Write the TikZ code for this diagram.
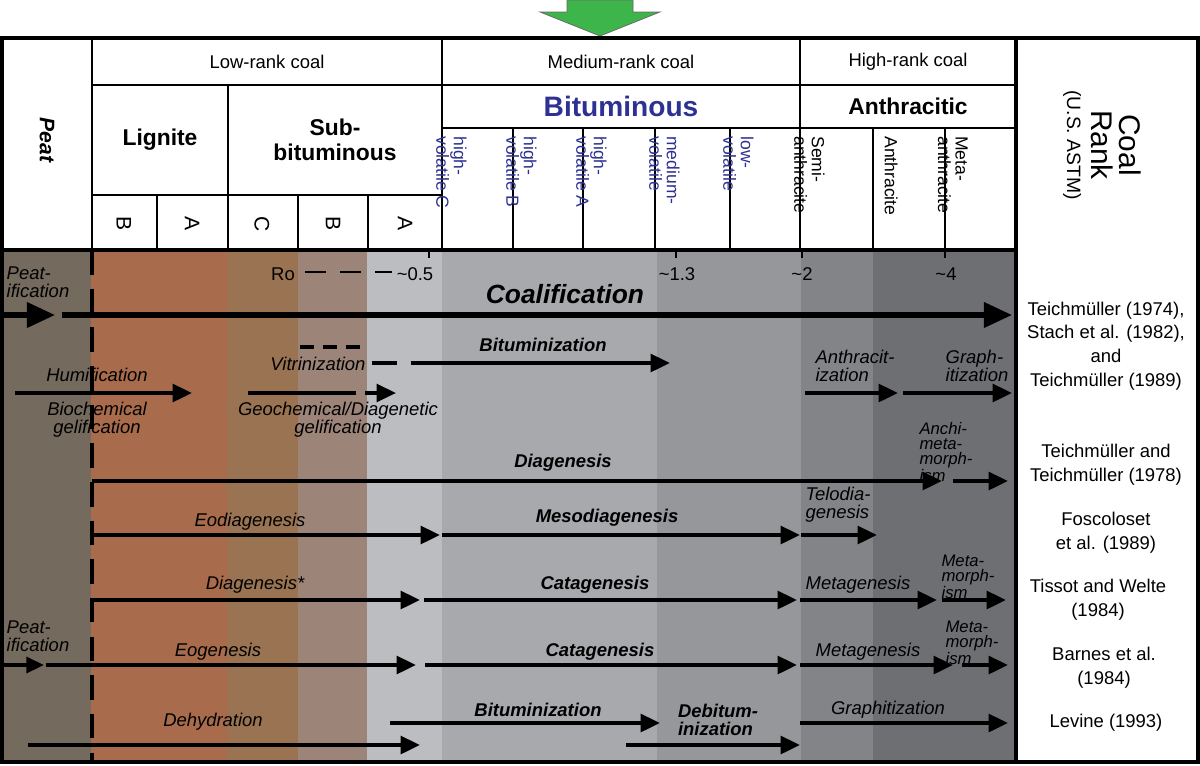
\documentclass[tikz,border=0pt]{standalone}
\usepackage{fontspec}
\setmainfont{Liberation Sans}
\usetikzlibrary{arrows.meta}
\definecolor{cpeat}{HTML}{756A5E}
\definecolor{corange}{HTML}{A86B4C}
\definecolor{colive}{HTML}{9A7452}
\definecolor{cmauve}{HTML}{9C8478}
\definecolor{clg}{HTML}{BCBDC1}
\definecolor{cg1}{HTML}{A8A9AD}
\definecolor{cg2}{HTML}{96979B}
\definecolor{cg3}{HTML}{838488}
\definecolor{cg4}{HTML}{6E6F73}
\definecolor{cblue}{HTML}{2E3192}
\definecolor{cgreen}{HTML}{3DB54A}
\tikzset{
 lab/.style={font=\fontsize{10.5}{10}\selectfont\itshape,align=center,inner sep=1pt},
 blab/.style={font=\fontsize{10.5}{10}\selectfont\bfseries\itshape,align=center,inner sep=1pt},
 slab/.style={font=\fontsize{9.5}{8.5}\selectfont\itshape,align=left,inner sep=0pt},
 ref/.style={font=\fontsize{10.5}{13.5}\selectfont,align=center},
 arr/.style={line width=2.2pt,-{Triangle[length=11pt,width=10pt]}},
 hdr/.style={font=\fontsize{10.5}{10}\selectfont},
 bhdr/.style={font=\fontsize{13}{14}\selectfont\bfseries,align=center},
 rot/.style={rotate=-90,font=\fontsize{10}{10}\selectfont,align=left,anchor=north west,inner sep=0pt},
}
\begin{document}
\begin{tikzpicture}[x=0.02cm,y=-0.02cm]
\useasboundingbox (0,0) rectangle (1200,765);
% bands
\fill[cpeat] (2,250) rectangle (91,762);
\fill[corange] (91,250) rectangle (227,762);
\fill[colive] (227,250) rectangle (298,762);
\fill[cmauve] (298,250) rectangle (367,762);
\fill[clg] (367,250) rectangle (442,762);
\fill[cg1] (442,250) rectangle (657,762);
\fill[cg2] (657,250) rectangle (801,762);
\fill[cg3] (801,250) rectangle (873,762);
\fill[cg4] (873,250) rectangle (1016,762);
% green arrow
\fill[cgreen,draw=black!60,line width=0.4pt] (567,0) -- (633,0) -- (633,12) -- (660,12) -- (600,36) -- (540,12) -- (567,12) -- cycle;
% grid
\draw[line width=2.5pt] (2,38) rectangle (1198,762);
\draw[line width=1.5pt] (92,38) -- (92,250);
\draw[line width=1.5pt] (442,38) -- (442,250);
\draw[line width=1.5pt] (800,38) -- (800,250);
\draw[line width=2.5pt] (1016,38) -- (1016,762);
\draw[line width=2.5pt] (2,250) -- (1016,250);
\draw[line width=1pt] (92,85) -- (1016,85);
\draw[line width=1pt] (442,128) -- (1016,128);
\draw[line width=1pt] (92,195) -- (442,195);
\draw[line width=1pt] (228,85) -- (228,250);
\foreach \x in {157,298,368} \draw[line width=1pt] (\x,195) -- (\x,250);
\foreach \x in {513,583,655,730,873,945} \draw[line width=1pt] (\x,128) -- (\x,250);
% header texts
\node[font=\fontsize{12}{12}\selectfont\bfseries\itshape,rotate=-90] (peat) at (47,140) {Peat};
\node[hdr] (low) at (267,62) {Low-rank coal};
\node[hdr] (med) at (621,62) {Medium-rank coal};
\node[hdr] (high) at (908,62) {High-rank coal};
\node[bhdr] (lig) at (160,140) {Lignite};
\node[bhdr] (sub) at (335,140) {Sub-\\bituminous};
\node[font=\fontsize{16}{16}\selectfont\bfseries,text=cblue] (bit) at (621,106) {Bituminous};
\node[font=\fontsize{13}{13}\selectfont\bfseries] (ant) at (908,106) {Anthracitic};
\foreach \x/\t in {124/B,192/A,262/C,333/B,405/A}
  \node[font=\fontsize{12}{12}\selectfont,rotate=-90] (l\t\x) at (\x,224) {\t};
\foreach \x/\t in {467/{high-\\volatile C},537/{high-\\volatile B},607/{high-\\volatile A},680/{medium-\\volatile},754/{low-\\volatile}}
  \node[rot,text=cblue] (b\x) at (\x,136) {\t};
\foreach \x/\t in {825/{Semi-\\anthracite},898/{Anthracite},968/{Meta-\\anthracite}}
  \node[rot] (a\x) at (\x,136) {\t};
\node[font=\fontsize{17}{18}\selectfont,rotate=-90] (cr) at (1130,145) {Coal};
\node[font=\fontsize{17}{18}\selectfont,rotate=-90] (cr2) at (1102,145) {Rank};
\node[font=\fontsize{11}{11}\selectfont,rotate=-90] (astm) at (1072,145) {(U.S. ASTM)};
% Ro ticks
\draw[line width=1pt] (429,250) -- (429,258);
\draw[line width=1pt] (676,250) -- (676,258);
\draw[line width=1pt] (802,250) -- (802,258);
\draw[line width=1pt] (945,250) -- (945,258);
\node[hdr] (ro) at (283,274) {Ro};
\node[hdr] (r05) at (415,274) {\textasciitilde 0.5};
\node[hdr] (r13) at (677,274) {\textasciitilde 1.3};
\node[hdr] (r2) at (802,274) {\textasciitilde 2};
\node[hdr] (r4) at (946,274) {\textasciitilde 4};
\draw[line width=1pt,dash pattern=on 12pt off 8pt] (ro.east) ++(4,-2) coordinate (roS) -- (392,272) coordinate (roE);
% dashed peat boundary
\draw[line width=2pt,dash pattern=on 14pt off 8pt] (92,250) -- (92,762);
% Coalification row
\node[lab,align=left] (pe1) at (38,282) {Peat-\\ification};
\node[font=\fontsize{15}{15}\selectfont\bfseries\itshape] (coal) at (565,294) {Coalification};
\coordinate (c0) at (2,315); \coordinate (c1) at (55,315);
\coordinate (c2) at (62,315); \coordinate (c3) at (1012,315);
\draw[line width=3pt,-{Triangle[length=16pt,width=14pt]}] (c0) -- (c1);
\draw[line width=3pt,-{Triangle[length=16pt,width=14pt]}] (c2) -- (c3);
% Vitrinization / bituminization
\draw[line width=2pt,dash pattern=on 8pt off 5pt] (300,347) coordinate (v0) -- (362,347) coordinate (v1);
\node[lab] (vit) at (318,364) {Vitrinization};
\node[blab] (bitz) at (543,345) {Bituminization};
\coordinate (v2) at (372,363); \coordinate (v3) at (430,363);\coordinate (v4) at (670,363);
\draw[line width=2pt,dash pattern=on 14pt off 8pt] (v2) -- (v3);
\draw[arr] (v3) -- (v4);
% Humification
\node[lab] (hum) at (97,375) {Humification};
\node[lab] (bio) at (97,420) {Biochemical\\gelification};
\coordinate (h0) at (15,393); \coordinate (h1) at (192,393);
\draw[arr] (h0) -- (h1);
\coordinate (g0) at (248,393); \coordinate (g1) at (342,393); \coordinate (g2) at (396,393);
\draw[line width=2pt] (g0) -- (g1);
\draw[line width=2pt,dash pattern=on 8pt off 5pt,-{Triangle[length=11pt,width=10pt]}] (g1) -- (g2);
\node[lab] (geo) at (338,420) {Geochemical/Diagenetic\\gelification};
\node[lab,align=left] (anth) at (855,366) {Anthracit-\\ization};
\node[lab,align=left] (grz) at (977,366) {Graph-\\itization};
\coordinate (an0) at (805,393); \coordinate (an1) at (898,393);
\coordinate (gr0) at (903,393); \coordinate (gr1) at (1012,393);
\draw[arr] (an0) -- (an1); \draw[arr] (gr0) -- (gr1);
% Diagenesis row
\node[blab] (dia) at (563,463) {Diagenesis};
\coordinate (d0) at (92,481); \coordinate (d1) at (942,481);
\draw[arr] (d0) -- (d1);
\node[slab] (anchi) at (946,452) {Anchi-\\meta-\\morph-\\ism};
\coordinate (am0) at (953,481); \coordinate (am1) at (1008,481);
\draw[arr] (am0) -- (am1);
% Eodiagenesis
\node[lab] (eod) at (250,522) {Eodiagenesis};
\node[blab] (meso) at (607,518) {Mesodiagenesis};
\node[lab,align=left] (telo) at (838,505) {Telodia-\\genesis};
\coordinate (e0) at (92,535); \coordinate (e1) at (440,535);
\coordinate (e2) at (442,535); \coordinate (e3) at (800,535);
\coordinate (e4) at (801,535); \coordinate (e5) at (877,535);
\draw[arr] (e0) -- (e1); \draw[arr] (e2) -- (e3); \draw[arr] (e4) -- (e5);
% Diagenesis*
\node[lab] (dst) at (255,585) {Diagenesis*};
\node[blab] (cat1) at (595,585) {Catagenesis};
\node[lab] (met1) at (858,585) {Metagenesis};
\node[slab] (mm1) at (968,577) {Meta-\\morph-\\ism};
\coordinate (t0) at (92,600); \coordinate (t1) at (420,600);
\coordinate (t2) at (424,600); \coordinate (t3) at (797,600);
\coordinate (t4) at (800,600); \coordinate (t5) at (937,600);
\coordinate (t6) at (942,600); \coordinate (t7) at (1006,600);
\draw[arr] (t0) -- (t1); \draw[arr] (t2) -- (t3); \draw[arr] (t4) -- (t5); \draw[arr] (t6) -- (t7);
% Eogenesis
\node[lab,align=left] (pe2) at (38,636) {Peat-\\ification};
\node[lab] (eog) at (218,652) {Eogenesis};
\node[blab] (cat2) at (600,652) {Catagenesis};
\node[lab] (met2) at (868,652) {Metagenesis};
\node[slab] (mm2) at (972,643) {Meta-\\morph-\\ism};
\coordinate (o0) at (2,692-27); \coordinate (o1) at (44,665);
\coordinate (o2) at (46,665); \coordinate (o3) at (416,665);
\coordinate (o4) at (425,665); \coordinate (o5) at (797,665);
\coordinate (o6) at (800,665); \coordinate (o7) at (953,665);
\coordinate (o8) at (962,665); \coordinate (o9) at (1008,665);
\draw[line width=2pt,-{Triangle[length=10pt,width=9pt]}] (o0) -- (o1);
\draw[arr] (o2) -- (o3); \draw[arr] (o4) -- (o5); \draw[arr] (o6) -- (o7); \draw[arr] (o8) -- (o9);
% Levine
\node[lab] (deh) at (213,722) {Dehydration};
\node[blab] (bit2) at (538,710) {Bituminization};
\node[blab,align=left] (debit) at (718,720) {Debitum-\\inization};
\node[lab] (graph2) at (888,710) {Graphitization};
\coordinate (lv0) at (28,745); \coordinate (lv1) at (420,745);
\coordinate (lv2) at (390,723); \coordinate (lv3) at (660,723);
\coordinate (lv4) at (626,745); \coordinate (lv5) at (800,745);
\coordinate (lv6) at (800,723); \coordinate (lv7) at (1008,723);
\draw[arr] (lv0) -- (lv1); \draw[arr] (lv2) -- (lv3); \draw[arr] (lv4) -- (lv5); \draw[arr] (lv6) -- (lv7);
% references
\node[ref] (r1) at (1106,346) {Teichmüller (1974),\\Stach et al. (1982),\\and\\Teichmüller (1989)};
\node[ref] (r2a) at (1106,465) {Teichmüller and\\Teichmüller (1978)};
\node[ref] (r3) at (1106,533) {Foscoloset\\ et al. (1989)};
\node[ref] (r4) at (1098,600) {Tissot and Welte\\(1984)};
\node[ref] (r5) at (1104,668) {Barnes et al.\\(1984)};
\node[ref] (r6) at (1106,723) {Levine (1993)};
\end{tikzpicture}
\end{document}
